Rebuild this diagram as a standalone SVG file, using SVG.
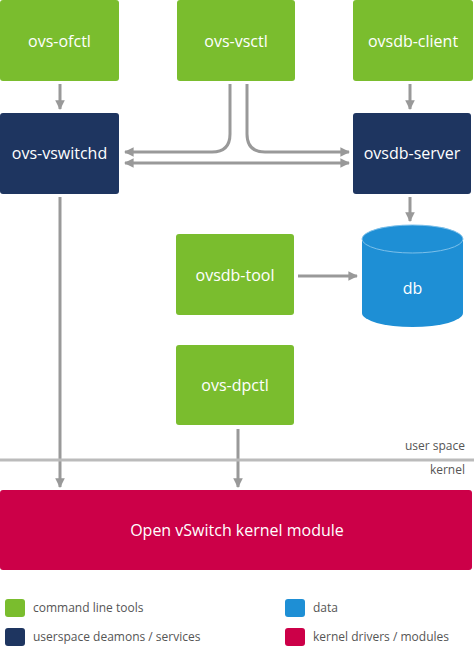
<svg xmlns="http://www.w3.org/2000/svg" width="474" height="655" viewBox="0 0 474 655">
<style>
.g{fill:#7ABD2E}
.n{fill:#1E3560}
.t{font-family:"Open Sans","Liberation Sans",sans-serif;font-size:16px;fill:#fff;text-anchor:middle}
.c{fill:none;stroke:#999;stroke-width:3}
.l{font-family:"Open Sans","Liberation Sans",sans-serif;font-size:12px;fill:#555}
</style>
<defs>
<marker id="ah" viewBox="0 0 10 10" refX="9" refY="5" markerWidth="3.2" markerHeight="3.2" orient="auto-start-reverse" markerUnits="strokeWidth">
<path d="M0,0 L10,5 L0,10 z" fill="#999"/>
</marker>
</defs>
<rect width="474" height="655" fill="#fff"/>
<g id="connectors">
<line class="c" x1="60" y1="84" x2="60" y2="109" marker-end="url(#ah)"/>
<line class="c" x1="410" y1="84" x2="410" y2="109" marker-end="url(#ah)"/>
<path class="c" d="M230,84 V134 Q230,152 212,152 H125" marker-end="url(#ah)"/>
<path class="c" d="M247,84 V134 Q247,152 265,152 H349" marker-end="url(#ah)"/>
<line class="c" x1="125" y1="163" x2="349" y2="163" marker-start="url(#ah)" marker-end="url(#ah)"/>
<line class="c" x1="60" y1="197" x2="60" y2="487" marker-end="url(#ah)"/>
<line class="c" x1="410" y1="197" x2="410" y2="221" marker-end="url(#ah)"/>
<line class="c" x1="298" y1="276" x2="357" y2="276" marker-end="url(#ah)"/>
<line class="c" x1="238" y1="429" x2="238" y2="487" marker-end="url(#ah)"/>
</g>
<g id="boundary">
<line x1="0" y1="460" x2="474" y2="460" stroke="#bbb" stroke-width="3"/>
<text class="l" x="465" y="450" text-anchor="end">user space</text>
<text class="l" x="465" y="474" text-anchor="end">kernel</text>
</g>
<g id="ovs-ofctl"><rect class="g" x="0" y="0" width="119" height="81" rx="3"/><text class="t" x="59.5" y="47">ovs-ofctl</text></g>
<g id="ovs-vsctl"><rect class="g" x="177" y="0" width="118" height="81" rx="3"/><text class="t" x="236" y="47">ovs-vsctl</text></g>
<g id="ovsdb-client"><rect class="g" x="353" y="0" width="120" height="81" rx="3"/><text class="t" x="413" y="47">ovsdb-client</text></g>
<g id="ovs-vswitchd"><rect class="n" x="0" y="113" width="119" height="81" rx="3"/><text class="t" x="59.5" y="159">ovs-vswitchd</text></g>
<g id="ovsdb-server"><rect class="n" x="353" y="113" width="118" height="81" rx="3"/><text class="t" x="412" y="159">ovsdb-server</text></g>
<g id="ovsdb-tool"><rect class="g" x="176" y="234" width="118" height="81" rx="3"/><text class="t" x="235" y="281">ovsdb-tool</text></g>
<g id="db">
<path d="M362,239 V313 A50.5,14 0 0 0 463,313 V239 Z" fill="#1E8FD5"/>
<ellipse cx="412.5" cy="239" rx="50.5" ry="14" fill="#1E8FD5" stroke="#7cc0ea" stroke-width="1"/>
<text class="t" x="412.5" y="294">db</text>
</g>
<g id="ovs-dpctl"><rect class="g" x="176" y="345" width="118" height="80" rx="3"/><text class="t" x="235" y="391">ovs-dpctl</text></g>
<g id="kernel-module"><rect x="0" y="490" width="472" height="80" rx="3" fill="#CC0048"/><text class="t" x="237" y="536">Open vSwitch kernel module</text></g>
<g id="legend">
<rect class="g" x="5" y="599" width="20" height="18" rx="3"/>
<text class="l" x="33" y="612">command line tools</text>
<rect class="n" x="5" y="628" width="20" height="18" rx="3"/>
<text class="l" x="33" y="641">userspace deamons / services</text>
<rect x="285" y="599" width="20" height="18" rx="3" fill="#1E8FD5"/>
<text class="l" x="313" y="612">data</text>
<rect x="285" y="628" width="20" height="18" rx="3" fill="#CC0048"/>
<text class="l" x="313" y="641">kernel drivers / modules</text>
</g>
</svg>
